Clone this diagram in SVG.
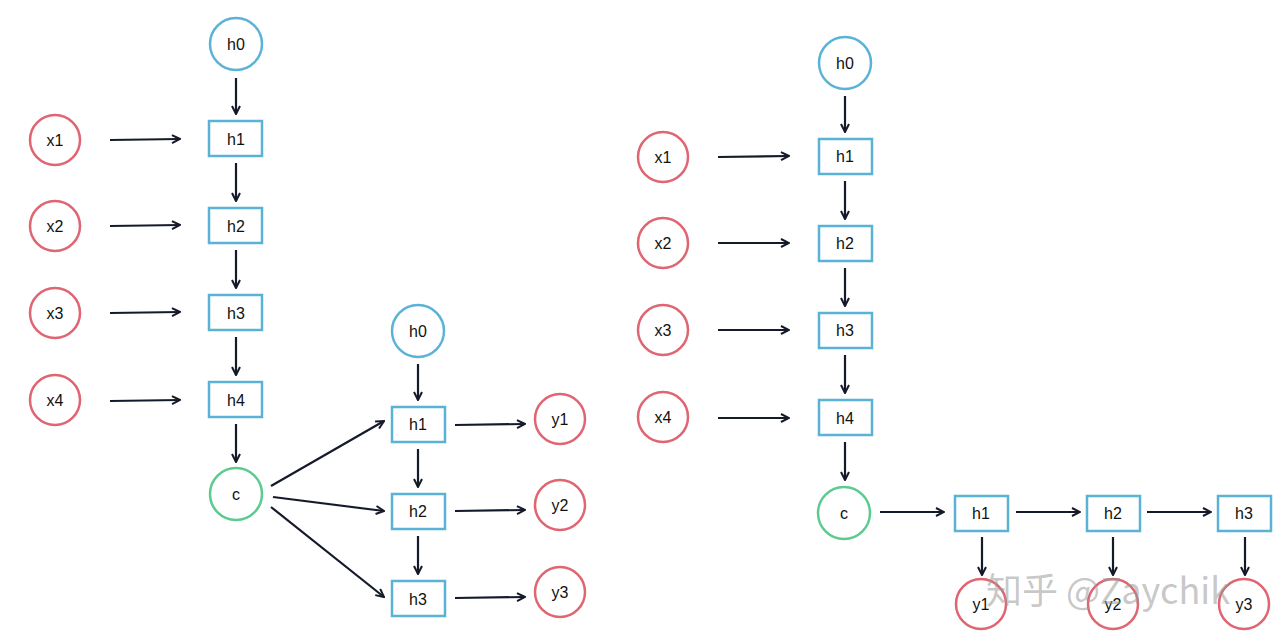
<svg xmlns="http://www.w3.org/2000/svg" width="1281" height="644" viewBox="0 0 1281 644">
<defs>
<marker id="a" markerWidth="10" markerHeight="10" refX="9" refY="5" orient="auto" markerUnits="userSpaceOnUse"><path d="M1,1 L9,5 L1,9" fill="none" stroke="#141a2a" stroke-width="2"/></marker>
<style>
.r{fill:#fff;stroke:#e06572;stroke-width:2.5}
.b{fill:#fff;stroke:#5ab3d6;stroke-width:2.5}
.g{fill:#fff;stroke:#5ccb8d;stroke-width:2.5}
text{font-family:"Liberation Sans",Arial,sans-serif;font-size:16px;fill:#111;text-anchor:middle;dominant-baseline:central}
#edges line{stroke:#141a2a;stroke-width:2.2;marker-end:url(#a)}
.wm{font-family:"Noto Sans CJK SC","Liberation Sans",sans-serif;font-size:36px;fill:#999;fill-opacity:0.55;dominant-baseline:auto;text-anchor:start}
</style>
</defs>
<rect width="1281" height="644" fill="#fff"/>
<g id="edges">
<line x1="236" y1="78" x2="236" y2="114"/>
<line x1="236" y1="163" x2="236" y2="201"/>
<line x1="236" y1="250" x2="236" y2="288"/>
<line x1="236" y1="337" x2="236" y2="375"/>
<line x1="236" y1="424" x2="236" y2="462"/>
<line x1="110" y1="140" x2="180" y2="139"/>
<line x1="110" y1="226" x2="180" y2="225"/>
<line x1="110" y1="313" x2="180" y2="312"/>
<line x1="110" y1="401" x2="180" y2="400"/>
<line x1="418" y1="364" x2="418" y2="400"/>
<line x1="418" y1="449" x2="418" y2="487"/>
<line x1="418" y1="536" x2="418" y2="574"/>
<line x1="271" y1="486" x2="384" y2="421"/>
<line x1="273" y1="497" x2="384" y2="511"/>
<line x1="271" y1="507" x2="384" y2="597"/>
<line x1="455" y1="425" x2="525" y2="424"/>
<line x1="455" y1="511" x2="525" y2="510"/>
<line x1="455" y1="598" x2="525" y2="597"/>
<line x1="845" y1="96" x2="845" y2="132"/>
<line x1="845" y1="181" x2="845" y2="219"/>
<line x1="845" y1="268" x2="845" y2="306"/>
<line x1="845" y1="355" x2="845" y2="393"/>
<line x1="845" y1="442" x2="845" y2="480"/>
<line x1="718" y1="157" x2="789" y2="156"/>
<line x1="718" y1="243" x2="789" y2="243"/>
<line x1="718" y1="330" x2="789" y2="330"/>
<line x1="718" y1="418" x2="789" y2="418"/>
<line x1="880" y1="512" x2="944" y2="512"/>
<line x1="1016" y1="512" x2="1080" y2="512"/>
<line x1="1147" y1="512" x2="1211" y2="512"/>
<line x1="982" y1="537" x2="982" y2="575"/>
<line x1="1113" y1="537" x2="1113" y2="575"/>
<line x1="1245" y1="537" x2="1245" y2="575"/>
</g>
<g id="L_h0"><circle class="b" cx="236" cy="44" r="26"/><text x="236" y="44">h0</text></g>
<g id="L_h1"><rect class="b" x="209" y="121" width="53" height="35"/><text x="236" y="139">h1</text></g>
<g id="L_h2"><rect class="b" x="209" y="208" width="53" height="35"/><text x="236" y="226">h2</text></g>
<g id="L_h3"><rect class="b" x="209" y="295" width="53" height="35"/><text x="236" y="313">h3</text></g>
<g id="L_h4"><rect class="b" x="209" y="382" width="53" height="35"/><text x="236" y="400">h4</text></g>
<g id="L_x1"><circle class="r" cx="55" cy="140" r="25"/><text x="55" y="140">x1</text></g>
<g id="L_x2"><circle class="r" cx="55" cy="226" r="25"/><text x="55" y="226">x2</text></g>
<g id="L_x3"><circle class="r" cx="55" cy="313" r="25"/><text x="55" y="313">x3</text></g>
<g id="L_x4"><circle class="r" cx="55" cy="400" r="25"/><text x="55" y="400">x4</text></g>
<g id="L_c"><circle class="g" cx="236" cy="494" r="26"/><text x="236" y="494">c</text></g>
<g id="D_h0"><circle class="b" cx="418" cy="331" r="26"/><text x="418" y="331">h0</text></g>
<g id="D_h1"><rect class="b" x="392" y="407" width="53" height="35"/><text x="418" y="424">h1</text></g>
<g id="D_h2"><rect class="b" x="392" y="494" width="53" height="35"/><text x="418" y="511">h2</text></g>
<g id="D_h3"><rect class="b" x="392" y="581" width="53" height="35"/><text x="418" y="599">h3</text></g>
<g id="D_y1"><circle class="r" cx="560" cy="419" r="25"/><text x="560" y="419">y1</text></g>
<g id="D_y2"><circle class="r" cx="560" cy="505" r="25"/><text x="560" y="505">y2</text></g>
<g id="D_y3"><circle class="r" cx="560" cy="592" r="25"/><text x="560" y="592">y3</text></g>
<g id="R_h0"><circle class="b" cx="845" cy="63" r="26"/><text x="845" y="63">h0</text></g>
<g id="R_h1"><rect class="b" x="819" y="139" width="53" height="35"/><text x="845" y="156">h1</text></g>
<g id="R_h2"><rect class="b" x="819" y="226" width="53" height="35"/><text x="845" y="243">h2</text></g>
<g id="R_h3"><rect class="b" x="819" y="313" width="53" height="35"/><text x="845" y="330">h3</text></g>
<g id="R_h4"><rect class="b" x="819" y="400" width="53" height="35"/><text x="845" y="418">h4</text></g>
<g id="R_x1"><circle class="r" cx="663" cy="157" r="25"/><text x="663" y="157">x1</text></g>
<g id="R_x2"><circle class="r" cx="663" cy="243" r="25"/><text x="663" y="243">x2</text></g>
<g id="R_x3"><circle class="r" cx="663" cy="330" r="25"/><text x="663" y="330">x3</text></g>
<g id="R_x4"><circle class="r" cx="663" cy="417" r="25"/><text x="663" y="417">x4</text></g>
<g id="R_c"><circle class="g" cx="844" cy="513" r="26"/><text x="844" y="513">c</text></g>
<g id="R_dh1"><rect class="b" x="955" y="496" width="53" height="35"/><text x="981" y="513">h1</text></g>
<g id="R_dh2"><rect class="b" x="1087" y="496" width="53" height="35"/><text x="1113" y="513">h2</text></g>
<g id="R_dh3"><rect class="b" x="1218" y="496" width="53" height="35"/><text x="1244" y="513">h3</text></g>
<g id="R_y1"><circle class="r" cx="981" cy="604" r="25"/><text x="981" y="604">y1</text></g>
<g id="R_y2"><circle class="r" cx="1113" cy="604" r="25"/><text x="1113" y="604">y2</text></g>
<g id="R_y3"><circle class="r" cx="1244" cy="604" r="25"/><text x="1244" y="604">y3</text></g>
<text class="wm" x="986" y="604">知乎 @Zaychik</text>
</svg>
